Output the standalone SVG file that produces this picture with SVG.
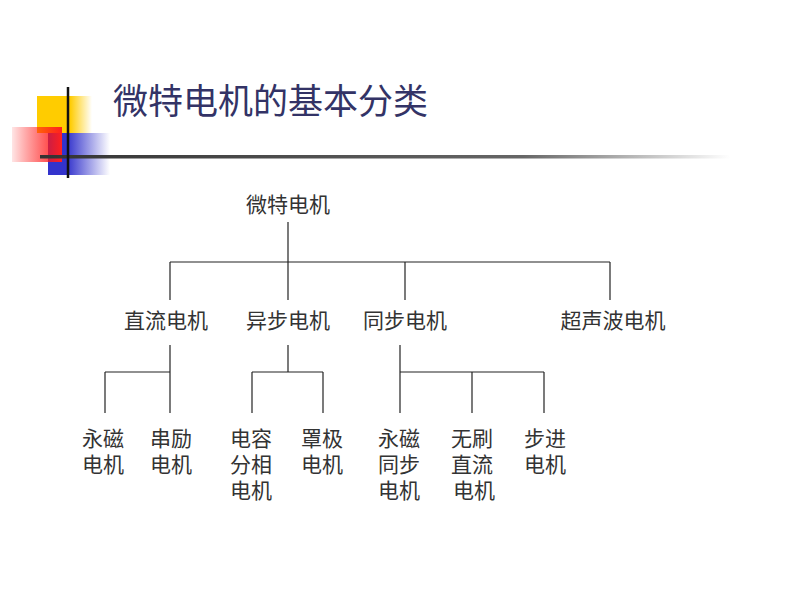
<svg xmlns="http://www.w3.org/2000/svg" width="800" height="600" viewBox="0 0 800 600">
<defs>
<linearGradient id="gy" x1="0" x2="1"><stop offset="0.6" stop-color="#ffcc00"/><stop offset="1" stop-color="#ffcc00" stop-opacity="0"/></linearGradient>
<linearGradient id="gr" x1="0" x2="1"><stop offset="0" stop-color="#ff0000" stop-opacity="0.1"/><stop offset="1" stop-color="#ff2020"/></linearGradient>
<linearGradient id="gb" x1="0" x2="1"><stop offset="0.3" stop-color="#3333cc"/><stop offset="1" stop-color="#3333cc" stop-opacity="0"/></linearGradient>
<linearGradient id="gl" x1="0" x2="1"><stop offset="0" stop-color="#333"/><stop offset="0.7" stop-color="#666"/><stop offset="1" stop-color="#fff"/></linearGradient>
<style>
.t{font-family:"Noto Sans CJK SC",sans-serif;font-size:21px;fill:#333}
.c line{stroke:#222;stroke-width:1.2}
</style>
</defs>
<rect width="800" height="600" fill="#fff"/>
<rect x="37" y="96" width="55" height="37" fill="url(#gy)"/>
<rect x="48" y="133" width="62" height="42" fill="url(#gb)"/>
<rect x="12" y="127" width="50" height="35" fill="url(#gr)"/>
<rect x="40" y="155" width="690" height="3.5" fill="url(#gl)"/>
<line x1="68" y1="87" x2="68" y2="178" stroke="#111" stroke-width="2.5"/>
<text x="113" y="114" style="font-family:'Noto Sans CJK SC',sans-serif;font-size:35px;fill:#333366">微特电机的基本分类</text>
<g class="c">
<line x1="288" y1="222" x2="288" y2="262"/>
<line x1="170" y1="262" x2="610" y2="262"/>
<line x1="170" y1="262" x2="170" y2="300"/>
<line x1="288" y1="262" x2="288" y2="300"/>
<line x1="405" y1="262" x2="405" y2="300"/>
<line x1="610" y1="262" x2="610" y2="300"/>
<line x1="170" y1="345" x2="170" y2="413"/>
<line x1="105" y1="372" x2="170" y2="372"/>
<line x1="105" y1="372" x2="105" y2="413"/>
<line x1="288" y1="345" x2="288" y2="372"/>
<line x1="252" y1="372" x2="323" y2="372"/>
<line x1="252" y1="372" x2="252" y2="413"/>
<line x1="323" y1="372" x2="323" y2="413"/>
<line x1="400" y1="345" x2="400" y2="413"/>
<line x1="400" y1="372" x2="544" y2="372"/>
<line x1="472" y1="372" x2="472" y2="413"/>
<line x1="544" y1="372" x2="544" y2="413"/>
</g>
<g id="root"><text class="t" x="288" y="212" text-anchor="middle">微特电机</text></g>
<g id="dc"><text class="t" x="166" y="328" text-anchor="middle">直流电机</text></g>
<g id="async"><text class="t" x="288" y="328" text-anchor="middle">异步电机</text></g>
<g id="sync"><text class="t" x="405" y="328" text-anchor="middle">同步电机</text></g>
<g id="ultra"><text class="t" x="613" y="328" text-anchor="middle">超声波电机</text></g>
<g id="pm"><text class="t" x="103" y="446" text-anchor="middle">永磁</text><text class="t" x="103" y="472" text-anchor="middle">电机</text></g>
<g id="series"><text class="t" x="171" y="446" text-anchor="middle">串励</text><text class="t" x="171" y="472" text-anchor="middle">电机</text></g>
<g id="cap"><text class="t" x="251" y="446" text-anchor="middle">电容</text><text class="t" x="251" y="472" text-anchor="middle">分相</text><text class="t" x="251" y="498" text-anchor="middle">电机</text></g>
<g id="shaded"><text class="t" x="322" y="446" text-anchor="middle">罩极</text><text class="t" x="322" y="472" text-anchor="middle">电机</text></g>
<g id="pmsync"><text class="t" x="399" y="446" text-anchor="middle">永磁</text><text class="t" x="399" y="472" text-anchor="middle">同步</text><text class="t" x="399" y="498" text-anchor="middle">电机</text></g>
<g id="bldc"><text class="t" x="472" y="446" text-anchor="middle">无刷</text><text class="t" x="472" y="472" text-anchor="middle">直流</text><text class="t" x="474" y="498" text-anchor="middle">电机</text></g>
<g id="step"><text class="t" x="545" y="446" text-anchor="middle">步进</text><text class="t" x="545" y="472" text-anchor="middle">电机</text></g>
</svg>
